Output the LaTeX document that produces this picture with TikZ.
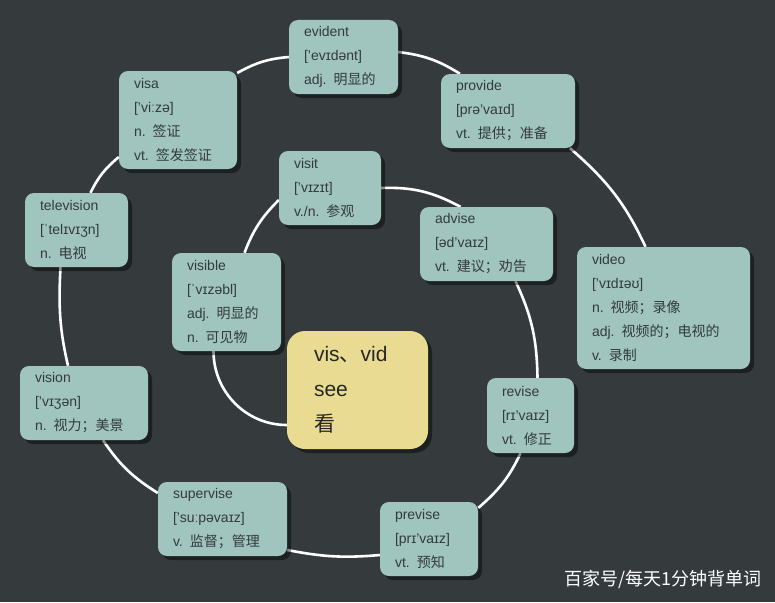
\documentclass[tikz,border=0pt]{standalone}
\usepackage{fontspec}
\setmainfont{Liberation Sans}
\newfontfamily\cjk{Noto Sans CJK SC}
\newcommand{\zh}[1]{{\cjk #1}}
\usetikzlibrary{shadows}
\definecolor{bg}{HTML}{353B3D}
\definecolor{boxc}{HTML}{A0C4BE}
\definecolor{txt}{HTML}{333B3A}
\definecolor{cen}{HTML}{E9DC92}
\pgfdeclarelayer{back}
\pgfsetlayers{back,main}
\begin{document}
\begin{tikzpicture}[x=1pt,y=-1pt,
  word/.style={draw=none,fill=boxc,rounded corners=9pt,text=txt,align=left,
    inner xsep=15pt,inner ysep=0pt,font=\fontsize{14}{24}\selectfont,
    drop shadow={shadow xshift=4pt,shadow yshift=-4pt,fill=black,opacity=0.45}},
  link/.style={draw=white,line width=2.6pt}]
\begin{pgfonlayer}{back}
\fill[bg] (0,0) rectangle (775,602);
\end{pgfonlayer}
\useasboundingbox (0,0) rectangle (775,602);
\node[word,text width=79,minimum height=74] (evident) at (343.5,57) {evident\\{}['evɪdənt]\\adj. \zh{明显的}};
\node[word,text width=88,minimum height=98] (visa) at (178,120) {visa\\{}['viːzə]\\n. \zh{签证}\\vt. \zh{签发签证}};
\node[word,text width=104,minimum height=74] (provide) at (508,111) {provide\\{}[prə'vaɪd]\\vt. \zh{提供；准备}};
\node[word,text width=73,minimum height=74] (television) at (76.5,230) {television\\{}[ˈtelɪvɪʒn]\\n. \zh{电视}};
\node[word,text width=72,minimum height=74] (visit) at (330,188) {visit\\{}['vɪzɪt]\\v./n. \zh{参观}};
\node[word,text width=103,minimum height=74] (advise) at (486.5,244) {advise\\{}[əd'vaɪz]\\vt. \zh{建议；劝告}};
\node[word,text width=79,minimum height=98] (visible) at (226.5,302) {visible\\{}[ˈvɪzəbl]\\adj. \zh{明显的}\\n. \zh{可见物}};
\node[word,text width=143,minimum height=122] (video) at (663.5,308) {video\\{}['vɪdɪəʊ]\\n. \zh{视频；录像}\\adj. \zh{视频的；电视的}\\v. \zh{录制}};
\node[word,fill=cen,text=black!85,rounded corners=18pt,inner xsep=27pt,text width=87,minimum height=118,font=\fontsize{21}{35}\selectfont] (center) at (357.5,390) {vis\zh{、}vid\\see\\\zh{看}};
\node[word,text width=98,minimum height=74] (vision) at (84,403) {vision\\{}['vɪʒən]\\n. \zh{视力；美景}};
\node[word,text width=57,minimum height=75] (revise) at (530.5,415.5) {revise\\{}[rɪ'vaɪz]\\vt. \zh{修正}};
\node[word,text width=99,minimum height=74] (supervise) at (222.5,519) {supervise\\{}['suːpəvaɪz]\\v. \zh{监督；管理}};
\node[word,text width=68,minimum height=74] (previse) at (429,539) {previse\\{}[prɪ'vaɪz]\\vt. \zh{预知}};
\node[text=white,font=\cjk\fontsize{18}{20}\selectfont,anchor=east] (wm) at (765,579) {百家号/每天1分钟背单词};
\begin{pgfonlayer}{back}
\draw[link] ([yshift=-35pt]center.west) to[out=180,in=-90] ([xshift=-13pt]visible.south);
\draw[link] ([xshift=18pt]visible.north) to[out=69,in=225] ([yshift=-12pt]visit.west);
\draw[link] (visit.east) to[out=2,in=152] ([xshift=-26pt]advise.north);
\draw[link] ([xshift=29pt]advise.south) to[out=-65,in=91] ([xshift=7pt]revise.north);
\draw[link] ([xshift=-10pt]revise.south) to[out=-115,in=41] ([yshift=31pt]previse.east);
\draw[link] ([yshift=-16pt]previse.west) to[out=185,in=-11] ([yshift=-31pt]supervise.east);
\draw[link] ([yshift=26pt]supervise.west) to[out=148,in=-56] ([xshift=19pt]vision.south);
\draw[link] ([xshift=-16pt]vision.north) to[out=103,in=-93] ([xshift=-16pt]television.south);
\draw[link] ([xshift=14pt]television.north) to[out=64,in=220] ([yshift=-37pt]visa.west);
\draw[link] ([yshift=47pt]visa.east) to[out=29,in=185] (evident.west);
\draw[link] ([yshift=5pt]evident.east) to[out=-7,in=148] ([xshift=-48pt]provide.north);
\draw[link] ([xshift=62pt]provide.south) to[out=-41,in=115] ([xshift=-18pt]video.north);
\end{pgfonlayer}
\end{tikzpicture}
\end{document}
